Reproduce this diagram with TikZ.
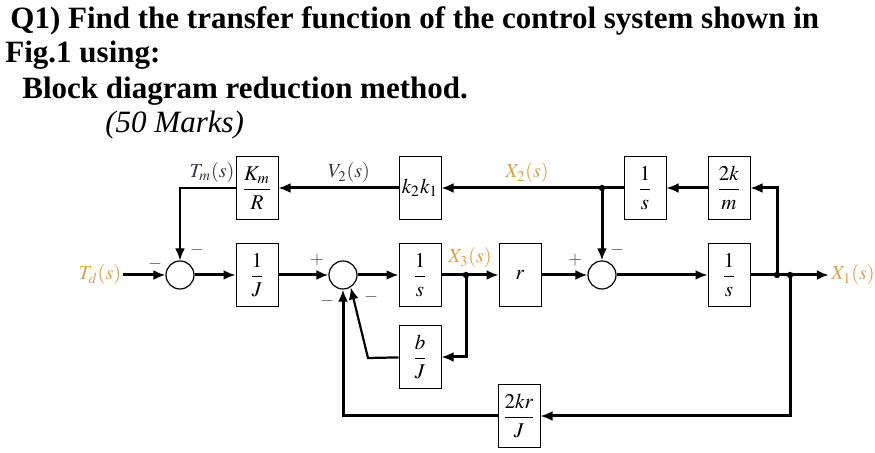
\documentclass[tikz,border=0pt]{standalone}
\usepackage{mathptmx}
\usepackage{fontspec}
\setmainfont{Liberation Serif}
\usepackage{xcolor}
\usetikzlibrary{arrows.meta}
\definecolor{sigorange}{RGB}{214,160,72}
\definecolor{sigdark}{RGB}{55,55,70}

\begin{document}
\begin{tikzpicture}[x=0.5pt,y=-0.5pt,
    block/.style={draw,line width=0.5pt,minimum width=21pt,minimum height=31.5pt,inner sep=0pt,
      font=\fontsize{10.5}{12}\selectfont},
    sumj/.style={circle,draw,line width=0.6pt,minimum size=14pt,inner sep=0pt},
    sig/.style={line width=1.5pt},
    flow/.style={sig,-{Latex[length=6pt,width=5pt]}},
    lab/.style={font=\fontsize{10}{12}\selectfont,inner sep=1pt},
    sgn/.style={font=\fontsize{9}{10}\selectfont,inner sep=0pt,text=black!70},
    title/.style={anchor=base west,inner sep=0pt,font=\fontsize{15.5}{18}\selectfont\bfseries}]
  \useasboundingbox (0,0) rectangle (875,453);

  % question
  \node[title] (q1) at (10,29) {Q1) Find the transfer function of the control system shown in};
  \node[title] (q2) at (5,63) {Fig.1 using:};
  \node[title] (q3) at (22,99) {Block diagram reduction method.};
  \node[title,font=\fontsize{15.5}{18}\selectfont\itshape] (q4) at (105,133) {(50 Marks)};

  % top row
  \node[block] (KmR) at (257,188) {$\displaystyle\frac{K_m}{R}$};
  \node[block] (kk) at (420,188) {$k_2k_1$};
  \node[block] (invtop) at (645,188) {$\displaystyle\frac{1}{s}$};
  \node[block] (km) at (729,188) {$\displaystyle\frac{2k}{m}$};

  % main row
  \node[sumj] (sum1) at (180,275) {};
  \node[block] (invJ) at (257,275) {$\displaystyle\frac{1}{J}$};
  \node[sumj] (sum2) at (343,275) {};
  \node[block] (invs) at (420,275) {$\displaystyle\frac{1}{s}$};
  \node[block] (rblk) at (520,275) {$r$};
  \node[sumj] (sum3) at (602,275) {};
  \node[block] (invx) at (729,275) {$\displaystyle\frac{1}{s}$};

  % lower loops
  \node[block] (bJ) at (420,357) {$\displaystyle\frac{b}{J}$};
  \node[block] (kr) at (519,416) {$\displaystyle\frac{2kr}{J}$};

  % signals
  \node[lab,text=sigorange] (Td) at (100,275) {$T_d(s)$};
  \node[lab,text=sigorange] (X1) at (853,275) {$X_1(s)$};
  \node[lab,text=sigorange] (X2) at (527,173) {$X_2(s)$};
  \node[lab,text=sigorange] (X3) at (470,258) {$X_3(s)$};
  \node[lab,text=sigdark] (Tm) at (212,173) {$T_m(s)$};
  \node[lab,text=sigdark] (V2) at (349,173) {$V_2(s)$};

  \coordinate (bx3) at (466,275);
  \coordinate (bx1) at (777,275);
  \coordinate (bx2) at (790,275);
  \coordinate (bx4) at (602,188);
  \coordinate (bjc) at (368,358);

  \draw[flow] (Td) -- (sum1);
  \draw[flow] (sum1) -- (invJ);
  \draw[flow] (invJ) -- (sum2);
  \draw[flow] (sum2) -- (invs);
  \draw[sig] (invs) -- (bx3);
  \draw[flow] (bx3) -- (rblk);
  \draw[flow] (rblk) -- (sum3);
  \draw[flow] (sum3) -- (invx);
  \draw[sig] (invx) -- (bx2);
  \draw[flow] (bx2) -- (X1);

  \draw[flow] (bx1) |- (km);
  \draw[flow] (km) -- (invtop);
  \draw[sig] (invtop) -- (bx4);
  \draw[flow] (bx4) -- (kk);
  \draw[flow] (bx4) -- (sum3);
  \draw[flow] (kk) -- (KmR);
  \draw[flow,line width=1.1pt] (KmR) -| (sum1);

  \draw[flow] (bx3) |- (bJ);
  \draw[flow,line width=1.1pt] (bJ) -- (bjc) -- (sum2.-58);
  \draw[flow] (bx2) |- (kr);
  \draw[flow] (kr) -| (sum2);

  \foreach \p in {bx1,bx2,bx3,bx4}
    \fill (\p) circle (1.6pt);

  % signs
  \node[sgn] (s1a) at (155,264) {$-$};
  \node[sgn] (s1b) at (197,250) {$-$};
  \node[sgn] (s2a) at (317,260) {$+$};
  \node[sgn] (s2b) at (327,301) {$-$};
  \node[sgn] (s2c) at (371,297) {$-$};
  \node[sgn] (s3a) at (575,260) {$+$};
  \node[sgn] (s3b) at (617,250) {$-$};
\end{tikzpicture}
\end{document}
